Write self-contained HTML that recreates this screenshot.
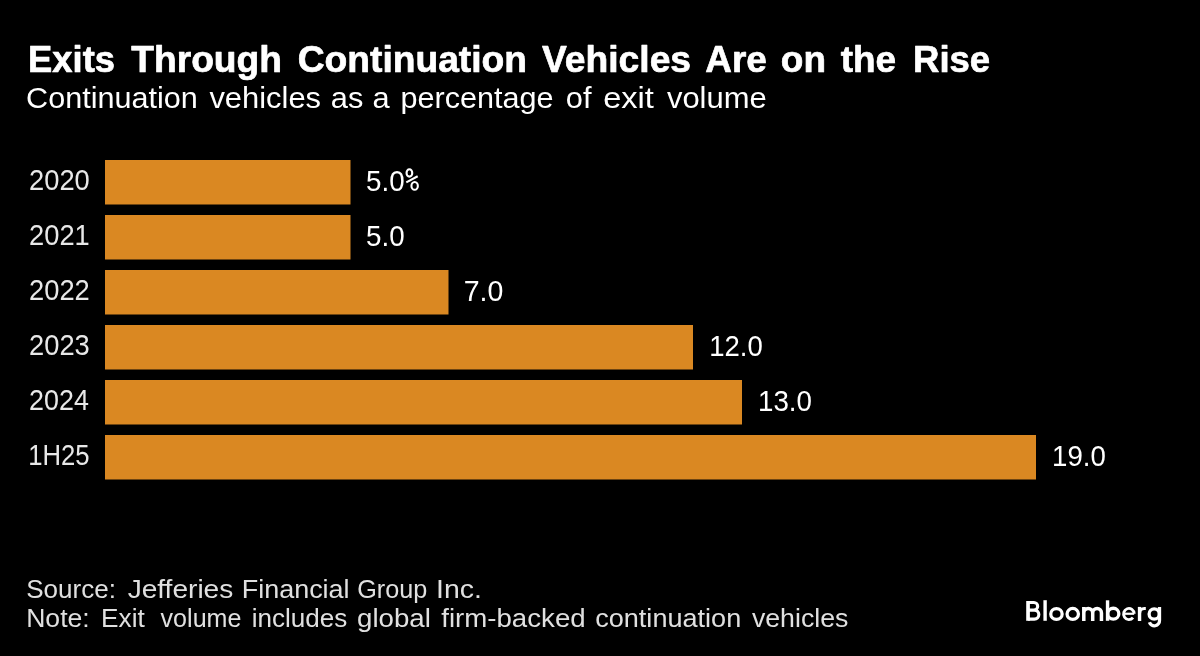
<!DOCTYPE html>
<html><head><meta charset="utf-8">
<style>
html,body{margin:0;padding:0;background:#000;width:1200px;height:656px;overflow:hidden}
svg{display:block;will-change:transform}
text{font-family:"Liberation Sans",sans-serif}
</style></head>
<body>
<svg width="1200" height="656" viewBox="0 0 1200 656">
<rect x="0" y="0" width="1200" height="656" fill="#000"/>
<g fill="#da8822">
<rect x="105" y="160" width="245.5" height="44.5"/>
<rect x="105" y="215" width="245.5" height="44.5"/>
<rect x="105" y="270" width="343.5" height="44.5"/>
<rect x="105" y="325" width="588" height="44.5"/>
<rect x="105" y="380" width="637" height="44.5"/>
<rect x="105" y="435" width="931" height="44.5"/>
</g>
<text transform="translate(28.06 72.00) scale(0.9701 1)" font-size="37.5" font-weight="bold" fill="#ffffff" stroke="#ffffff" stroke-width="0.7" stroke-linejoin="round">Exits</text>
<text transform="translate(131.25 72.00) scale(0.9917 1)" font-size="37.5" font-weight="bold" fill="#ffffff" stroke="#ffffff" stroke-width="0.7" stroke-linejoin="round">Through</text>
<text transform="translate(297.76 72.00) scale(0.9923 1)" font-size="37.5" font-weight="bold" fill="#ffffff" stroke="#ffffff" stroke-width="0.7" stroke-linejoin="round">Continuation</text>
<text transform="translate(542.00 72.00) scale(0.9933 1)" font-size="37.5" font-weight="bold" fill="#ffffff" stroke="#ffffff" stroke-width="0.7" stroke-linejoin="round">Vehicles</text>
<text transform="translate(705.24 72.00) scale(0.9844 1)" font-size="37.5" font-weight="bold" fill="#ffffff" stroke="#ffffff" stroke-width="0.7" stroke-linejoin="round">Are</text>
<text transform="translate(780.85 72.00) scale(0.9844 1)" font-size="37.5" font-weight="bold" fill="#ffffff" stroke="#ffffff" stroke-width="0.7" stroke-linejoin="round">on</text>
<text transform="translate(840.69 72.00) scale(0.9844 1)" font-size="37.5" font-weight="bold" fill="#ffffff" stroke="#ffffff" stroke-width="0.7" stroke-linejoin="round">the</text>
<text transform="translate(913.05 72.00) scale(0.9737 1)" font-size="37.5" font-weight="bold" fill="#ffffff" stroke="#ffffff" stroke-width="0.7" stroke-linejoin="round">Rise</text>
<text transform="translate(26.07 108.00) scale(1.0130 1)" font-size="30.2" fill="#ffffff">Continuation</text>
<text transform="translate(209.40 108.00) scale(1.0241 1)" font-size="30.2" fill="#ffffff">vehicles</text>
<text transform="translate(330.87 108.00) scale(1.0190 1)" font-size="30.2" fill="#ffffff">as</text>
<text transform="translate(372.38 108.00) scale(1.0190 1)" font-size="30.2" fill="#ffffff">a</text>
<text transform="translate(400.47 108.00) scale(1.0135 1)" font-size="30.2" fill="#ffffff">percentage</text>
<text transform="translate(565.80 108.00) scale(1.0190 1)" font-size="30.2" fill="#ffffff">of</text>
<text transform="translate(603.15 108.00) scale(1.0801 1)" font-size="30.2" fill="#ffffff">exit</text>
<text transform="translate(666.90 108.00) scale(1.0260 1)" font-size="30.2" fill="#ffffff">volume</text>
<text transform="translate(26.20 597.60) scale(1.0023 1)" font-size="26" fill="#e0e0e0">Source:</text>
<text transform="translate(127.67 597.60) scale(1.0807 1)" font-size="26" fill="#e0e0e0">Jefferies</text>
<text transform="translate(241.68 597.60) scale(1.0375 1)" font-size="26" fill="#e0e0e0">Financial</text>
<text transform="translate(357.25 597.60) scale(0.9700 1)" font-size="26" fill="#e0e0e0">Group</text>
<text transform="translate(436.08 597.60) scale(1.0938 1)" font-size="26" fill="#e0e0e0">Inc.</text>
<text transform="translate(26.16 626.90) scale(1.0224 1)" font-size="26" fill="#e0e0e0">Note:</text>
<text transform="translate(101.09 626.90) scale(1.0073 1)" font-size="26" fill="#e0e0e0">Exit</text>
<text transform="translate(160.59 626.90) scale(0.9648 1)" font-size="26" fill="#e0e0e0">volume</text>
<text transform="translate(251.75 626.90) scale(1.0016 1)" font-size="26" fill="#e0e0e0">includes</text>
<text transform="translate(357.04 626.90) scale(1.0642 1)" font-size="26" fill="#e0e0e0">global</text>
<text transform="translate(441.25 626.90) scale(1.0634 1)" font-size="26" fill="#e0e0e0">firm-backed</text>
<text transform="translate(595.21 626.90) scale(1.0417 1)" font-size="26" fill="#e0e0e0">continuation</text>
<text transform="translate(751.90 626.90) scale(1.0280 1)" font-size="26" fill="#e0e0e0">vehicles</text>
<text transform="translate(29.08 190.00) scale(0.9156 1)" font-size="29.8" fill="#e8e8e8">2020</text>
<text transform="translate(29.08 245.00) scale(0.9156 1)" font-size="29.8" fill="#e8e8e8">2021</text>
<text transform="translate(29.08 300.00) scale(0.9156 1)" font-size="29.8" fill="#e8e8e8">2022</text>
<text transform="translate(29.08 355.00) scale(0.9156 1)" font-size="29.8" fill="#e8e8e8">2023</text>
<text transform="translate(29.10 410.00) scale(0.9015 1)" font-size="29.8" fill="#e8e8e8">2024</text>
<text transform="translate(28.28 465.00) scale(0.8618 1)" font-size="29.8" fill="#e8e8e8">1H25</text>
<text transform="translate(366.06 190.60) scale(0.9410 1)" font-size="29.5" fill="#ffffff">5.0</text>
<text transform="translate(366.06 245.60) scale(0.9410 1)" font-size="29.5" fill="#ffffff">5.0</text>
<text transform="translate(463.63 300.60) scale(0.9667 1)" font-size="29.5" fill="#ffffff">7.0</text>
<text transform="translate(709.13 355.60) scale(0.9333 1)" font-size="29.5" fill="#ffffff">12.0</text>
<text transform="translate(758.02 410.60) scale(0.9407 1)" font-size="29.5" fill="#ffffff">13.0</text>
<text transform="translate(1052.03 465.60) scale(0.9370 1)" font-size="29.5" fill="#ffffff">19.0</text>
<g fill="none" stroke="#fff"><path d="M1028.05 601V620.8" stroke-width="3.7"/><path d="M1028.05 602.5H1033.9A3.8 3.8 0 0 1 1033.9 610.1H1028.05 M1033.9 610.1H1034.35A4.5 4.5 0 0 1 1034.35 619.1H1028.05" stroke-width="3.1"/><path d="M1045.1 600.2V620.8" stroke-width="3.4"/><path d="M1050.75 613.95A5.70 5.45 0 1 1 1062.15 613.95A5.70 5.45 0 1 1 1050.75 613.95ZM1067.05 613.95A5.70 5.45 0 1 1 1078.45 613.95A5.70 5.45 0 1 1 1067.05 613.95Z" stroke-width="3.25"/><path d="M1083.8 606.9V620.9 M1083.8 612.95A4.45 4.4 0 0 1 1092.7 612.95V620.9 M1092.7 612.95A4.375 4.4 0 0 1 1101.45 612.95V620.9" stroke-width="3.5"/><path d="M1107.55 600.3V620.8" stroke-width="3.4"/><path d="M1107.75 613.70A5.55 5.45 0 1 1 1118.85 613.70A5.55 5.45 0 1 1 1107.75 613.70Z" stroke-width="3.3"/><path d="M1123.5 613.75H1134.2" stroke-width="2.2"/><path d="M1134.2 613.75A5.3 5.6 0 1 0 1133.0 617.6" stroke-width="2.9"/><path d="M1139.55 606.9V621" stroke-width="3.4"/><path d="M1139.55 613.2A4.8 4.8 0 0 1 1144.35 608.5H1145.8" stroke-width="3.2"/><path d="M1149.10 614.00A5.10 5.20 0 1 1 1159.30 614.00A5.10 5.20 0 1 1 1149.10 614.00Z" stroke-width="3.3"/><path d="M1159.5 606.9V620.3A5.2 5.3 0 0 1 1149.4 622.3" stroke-width="3.3"/></g>
<g fill="none" stroke="#fff" stroke-width="2.1"><ellipse cx="409.4" cy="172.9" rx="2.85" ry="3.7"/><ellipse cx="414.65" cy="185.9" rx="3.2" ry="3.85"/><path d="M406.3 182.4L417.7 176.3"/></g>
</svg>
</body></html>
